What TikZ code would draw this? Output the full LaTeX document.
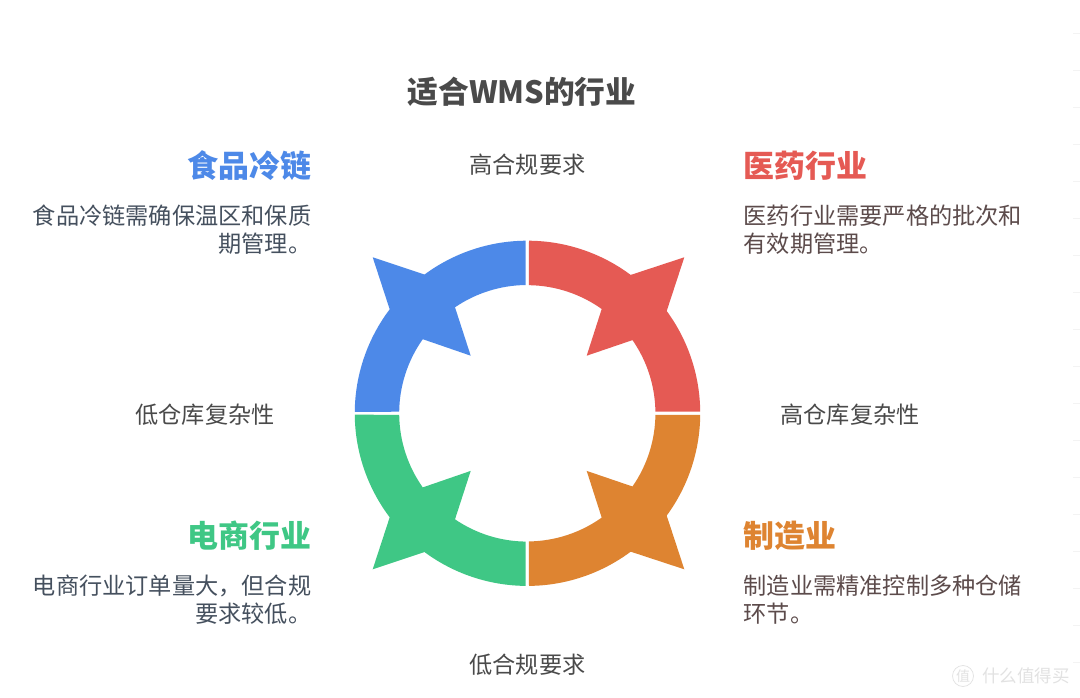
\documentclass[tikz,border=0pt]{standalone}
\usepackage{fontspec}
\setmainfont{Noto Sans CJK SC}
\definecolor{cblue}{HTML}{4D89E8}
\definecolor{cred}{HTML}{E55A54}
\definecolor{cgreen}{HTML}{3FC785}
\definecolor{corange}{HTML}{DE8431}
\definecolor{cbodyl}{HTML}{45505E}
\definecolor{cbodyr}{HTML}{5C4B4B}
\definecolor{caxis}{HTML}{4A4A4A}
\definecolor{cwm}{HTML}{E2E2E2}
\definecolor{ctick}{HTML}{F3F3F3}
\tikzset{
  titletext/.style={font=\fontsize{30.7}{36}\selectfont\bfseries,text=caxis,inner sep=0pt},
  headtext/.style={font=\fontsize{30.9}{36}\selectfont\bfseries,inner sep=0pt},
  bodytext/.style={font=\fontsize{23.2}{28}\selectfont,inner sep=0pt},
  axistext/.style={font=\fontsize{23.2}{28}\selectfont,text=caxis,inner sep=0pt},
  wedge/.style={fill=#1,draw=none},
  edgetick/.style={draw=ctick,line width=1pt},
}
\begin{document}
\begin{tikzpicture}[x=1pt,y=-1pt]
\useasboundingbox (0,0) rectangle (1080,698);
\fill[white] (0,0) rectangle (1080,698);
\foreach \k in {0,...,17}{
  \draw[edgetick] (1073,33.3+37*\k) -- (1080,33.3+37*\k);
}
\begin{scope}[shift={(527.3,413.3)},x=1pt,y=1pt]
  \path[wedge=cblue]
    (-1.6,172.6) arc[start angle=90.5,end angle=126.5,radius=172.7]
    -- (-154.6,156) -- (-137.6,104)
    arc[start angle=142.9,end angle=179.5,radius=172.7]
    -- (-128.1,1.6)
    arc[start angle=179.3,end angle=144.7,radius=128.2]
    -- (-56.6,57.6) -- (-72.3,106)
    arc[start angle=124.3,end angle=90.7,radius=128.2] -- cycle;
  \path[wedge=cgreen,yscale=-1]
    (-1.6,172.6) arc[start angle=90.5,end angle=126.5,radius=172.7]
    -- (-154.6,156) -- (-137.6,104)
    arc[start angle=142.9,end angle=179.5,radius=172.7]
    -- (-128.1,1.6)
    arc[start angle=179.3,end angle=144.7,radius=128.2]
    -- (-56.6,57.6) -- (-72.3,106)
    arc[start angle=124.3,end angle=90.7,radius=128.2] -- cycle;
  \path[wedge=cred]
    (1.7,172.6) arc[start angle=89.5,end angle=53.3,radius=172.7]
    -- (157,156) -- (139.4,102.3)
    arc[start angle=36.3,end angle=0.5,radius=172.7]
    -- (128.1,1.6)
    arc[start angle=0.7,end angle=34.8,radius=128.2]
    -- (59.4,57.6) -- (74.4,104.3)
    arc[start angle=54.5,end angle=89.3,radius=128.2] -- cycle;
  \path[wedge=corange,yscale=-1]
    (1.7,172.6) arc[start angle=89.5,end angle=53.3,radius=172.7]
    -- (157,156) -- (139.4,102.3)
    arc[start angle=36.3,end angle=0.5,radius=172.7]
    -- (128.1,1.6)
    arc[start angle=0.7,end angle=34.8,radius=128.2]
    -- (59.4,57.6) -- (74.4,104.3)
    arc[start angle=54.5,end angle=89.3,radius=128.2] -- cycle;
\end{scope}
\node[titletext] (title) at (522,92) {适合WMS的行业};
\node[axistext] (top) at (527.5,165) {高合规要求};
\node[axistext] (bottom) at (527.5,664.5) {低合规要求};
\node[axistext] (left) at (205,414.5) {低仓库复杂性};
\node[axistext] (right) at (850,414.5) {高仓库复杂性};
\node[headtext,text=cblue,anchor=east] (hfood) at (311.5,166) {食品冷链};
\node[bodytext,text=cbodyl,anchor=east] (bfood1) at (311.5,216) {食品冷链需确保温区和保质};
\node[bodytext,text=cbodyl,anchor=east] (bfood2) at (311.5,244) {期管理。};
\node[headtext,text=cred,anchor=west] (hmed) at (743.5,166) {医药行业};
\node[bodytext,text=cbodyr,anchor=west] (bmed1) at (743.5,216) {医药行业需要严格的批次和};
\node[bodytext,text=cbodyr,anchor=west] (bmed2) at (743.5,244) {有效期管理。};
\node[headtext,text=cgreen,anchor=east] (hecom) at (311.5,536) {电商行业};
\node[bodytext,text=cbodyl,anchor=east] (becom1) at (311.5,586) {电商行业订单量大，但合规};
\node[bodytext,text=cbodyl,anchor=east] (becom2) at (311.5,614) {要求较低。};
\node[headtext,text=corange,anchor=west] (hmfg) at (743.5,536) {制造业};
\node[bodytext,text=cbodyr,anchor=west] (bmfg1) at (743.5,586) {制造业需精准控制多种仓储};
\node[bodytext,text=cbodyr,anchor=west] (bmfg2) at (743.5,614) {环节。};
\node[circle,draw=cwm,line width=0.7pt,minimum size=21pt,inner sep=0pt,text=cwm,font=\fontsize{14}{16}\selectfont] (wmicon) at (963,676) {值};
\node[anchor=west,inner sep=0pt,text=cwm,font=\fontsize{17.5}{20}\selectfont] (wmtext) at (982,676) {什么值得买};
\end{tikzpicture}
\end{document}
